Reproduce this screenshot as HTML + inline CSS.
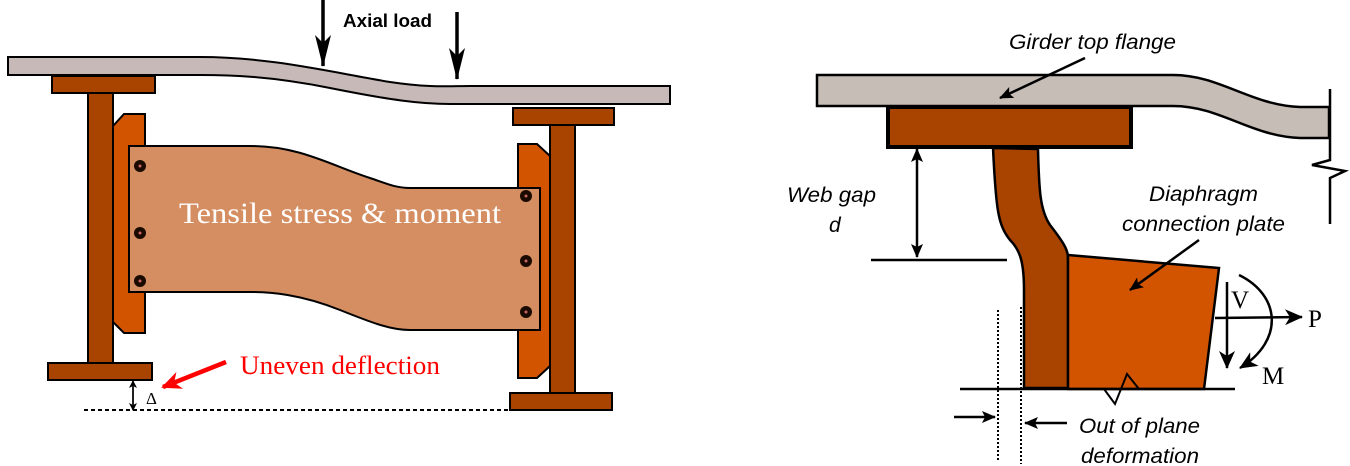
<!DOCTYPE html>
<html><head><meta charset="utf-8"><style>
html,body{margin:0;padding:0;background:#fff;}
svg{display:block;}
</style></head><body>
<svg width="1350" height="466" viewBox="0 0 1350 466" xmlns="http://www.w3.org/2000/svg">
<defs>
<marker id="ah" markerWidth="14" markerHeight="12" refX="13" refY="6" orient="auto" markerUnits="userSpaceOnUse"><path d="M0,0 L14,6 L0,12 L3,6 Z" fill="#000"/></marker>
<marker id="ahb" markerWidth="18" markerHeight="16" refX="17" refY="8" orient="auto" markerUnits="userSpaceOnUse"><path d="M0,0 L18,8 L0,16 L5,8 Z" fill="#000"/></marker>
<marker id="ahB" markerWidth="32" markerHeight="16" refX="31" refY="8" orient="auto" markerUnits="userSpaceOnUse"><path d="M0,0 L32,8 L0,16 L8,8 Z" fill="#000"/></marker>
<marker id="ahr" markerWidth="20" markerHeight="18" refX="18" refY="9" orient="auto" markerUnits="userSpaceOnUse"><path d="M0,0 L20,9 L0,18 L6,9 Z" fill="#f00"/></marker>
<marker id="ahs" markerWidth="8" markerHeight="8" refX="7" refY="4" orient="auto" markerUnits="userSpaceOnUse"><path d="M0,0 L8,4 L0,8 L2,4 Z" fill="#000"/></marker>
</defs>
<g stroke="#000" stroke-width="2" stroke-linejoin="miter">
<path d="M8,57 L200,57 C270,57 330,72 390,82 C430,88 450,86 470,86 L670,86 L670,104 L450,104 C420,104 390,100 330,88 C270,76 230,75 200,75 L8,75 Z" fill="#c7b9b7"/>
<rect x="52" y="76" width="103" height="17" fill="#a84300"/>
<rect x="88" y="93" width="25" height="270" fill="#a84300"/>
<path d="M113,126 L124,114 L145,114 L145,333 L124,333 L113,322 Z" fill="#d35400"/>
<rect x="48" y="363" width="104" height="17" fill="#a84300"/>
<rect x="513" y="108" width="101" height="17" fill="#a84300"/>
<rect x="550" y="125" width="25" height="268" fill="#a84300"/>
<path d="M550,156 L537,144 L518,144 L518,378 L537,378 L550,366 Z" fill="#d35400"/>
<rect x="510" y="393" width="102" height="17" fill="#a84300"/>
<path d="M129,146 L250,146 C300,146 330,165 370,178 C385,183 395,188 410,188 L540,188 L540,330 L410,330 C390,330 370,322 340,310 C300,294 270,292 250,292 L129,292 Z" fill="#d48e62"/>
</g>
<g fill="#1a0a00">
<circle cx="140" cy="166" r="6"/><circle cx="140" cy="233" r="6"/><circle cx="140" cy="281" r="6"/>
<circle cx="526" cy="196" r="6"/><circle cx="526" cy="261" r="6"/><circle cx="526" cy="312" r="6"/>
</g>
<g fill="#c66">
<circle cx="140" cy="166" r="1.5"/><circle cx="140" cy="233" r="1.5"/><circle cx="140" cy="281" r="1.5"/>
<circle cx="526" cy="196" r="1.5"/><circle cx="526" cy="261" r="1.5"/><circle cx="526" cy="312" r="1.5"/>
</g>
<text x="179" y="223" font-family="Liberation Serif, serif" font-size="30" fill="#fff" textLength="322" lengthAdjust="spacingAndGlyphs">Tensile stress  &amp; moment</text>
<line x1="323" y1="0" x2="323" y2="66" stroke="#000" stroke-width="3.5" marker-end="url(#ahB)"/>
<line x1="457" y1="12" x2="457" y2="79" stroke="#000" stroke-width="3.5" marker-end="url(#ahB)"/>
<text x="343" y="27" font-family="Liberation Sans, sans-serif" font-weight="bold" font-size="18" fill="#000" textLength="89" lengthAdjust="spacingAndGlyphs">Axial load</text>
<text x="240" y="374" font-family="Liberation Serif, serif" font-size="26" fill="#f00" textLength="200" lengthAdjust="spacingAndGlyphs">Uneven deflection</text>
<line x1="226" y1="362" x2="163" y2="387" stroke="#f00" stroke-width="4.5" marker-end="url(#ahr)"/>
<line x1="84" y1="410" x2="508" y2="410" stroke="#000" stroke-width="2" stroke-dasharray="4,3"/>
<line x1="133" y1="387" x2="133" y2="410" stroke="#000" stroke-width="1.5" marker-end="url(#ahs)"/>
<line x1="133" y1="404" x2="133" y2="381" stroke="#000" stroke-width="1.5" marker-end="url(#ahs)"/>
<text x="146" y="404" font-family="Liberation Serif, serif" font-size="17" fill="#000">Δ</text>

<g stroke="#000" stroke-width="2.5">
<path d="M817,75 L1173,75 C1220,75 1250,105 1300,107 L1329,107 L1329,138 L1300,138 C1250,136 1220,106 1173,106 L817,106 Z" fill="#c7bdb7"/>
<rect x="888" y="107" width="243" height="40" fill="#a84300" stroke-width="4"/>
<path d="M993,148 L1038,149 C1039,190 1040,210 1050,225 C1064,243 1068,250 1068,258 L1068,388 L1024,388 L1024,290 C1024,262 1020,250 1010,240 C998,225 996,210 993,148 Z" fill="#a84300"/>
<path d="M1068,255 L1219,268 L1204,389 L1068,389 Z" fill="#d35400"/>
</g>
<line x1="960" y1="389" x2="1235" y2="389" stroke="#000" stroke-width="2.5"/>
<polyline points="1104,389 1115,404 1127,374 1139,389" fill="none" stroke="#000" stroke-width="2"/>
<polyline points="1330,89 1330,160 1312,165 1345,171 1330,178 1330,224" fill="none" stroke="#000" stroke-width="2.5"/>
<line x1="871" y1="260" x2="1007" y2="260" stroke="#000" stroke-width="2.5"/>
<line x1="917" y1="200" x2="917" y2="149" stroke="#000" stroke-width="2.5" marker-end="url(#ah)"/>
<line x1="917" y1="200" x2="917" y2="257" stroke="#000" stroke-width="2.5" marker-end="url(#ah)"/>
<text x="787" y="202" font-family="Liberation Sans, sans-serif" font-style="italic" font-size="21" textLength="89" lengthAdjust="spacingAndGlyphs">Web gap</text>
<text x="829" y="232" font-family="Liberation Sans, sans-serif" font-style="italic" font-size="21">d</text>
<text x="1009" y="49" font-family="Liberation Sans, sans-serif" font-style="italic" font-size="21" textLength="167" lengthAdjust="spacingAndGlyphs">Girder top flange</text>
<line x1="1085" y1="58" x2="1000" y2="98" stroke="#000" stroke-width="2.5" marker-end="url(#ah)"/>
<text x="1149" y="201" font-family="Liberation Sans, sans-serif" font-style="italic" font-size="21" textLength="109" lengthAdjust="spacingAndGlyphs">Diaphragm</text>
<text x="1122" y="231" font-family="Liberation Sans, sans-serif" font-style="italic" font-size="21" textLength="163" lengthAdjust="spacingAndGlyphs">connection plate</text>
<line x1="1199" y1="240" x2="1130" y2="290" stroke="#000" stroke-width="2.5" marker-end="url(#ah)"/>
<line x1="1227" y1="282" x2="1227" y2="368" stroke="#000" stroke-width="2.5" marker-end="url(#ahb)"/>
<line x1="1215" y1="318" x2="1302" y2="317" stroke="#000" stroke-width="2.5" marker-end="url(#ahb)"/>
<path d="M1239,275 C1280,295 1285,340 1240,368" fill="none" stroke="#000" stroke-width="2.5" marker-end="url(#ahb)"/>
<text x="1231" y="308" font-family="Liberation Serif, serif" font-size="25">V</text>
<text x="1308" y="327" font-family="Liberation Serif, serif" font-size="25">P</text>
<text x="1262" y="384" font-family="Liberation Serif, serif" font-size="25">M</text>
<line x1="998" y1="310" x2="998" y2="462" stroke="#000" stroke-width="2" stroke-dasharray="2,2"/>
<line x1="1021" y1="307" x2="1021" y2="464" stroke="#000" stroke-width="2" stroke-dasharray="2,2"/>
<line x1="954" y1="417" x2="995" y2="417" stroke="#000" stroke-width="2.5" marker-end="url(#ah)"/>
<line x1="1067" y1="423" x2="1025" y2="423" stroke="#000" stroke-width="2.5" marker-end="url(#ah)"/>
<text x="1079" y="433" font-family="Liberation Sans, sans-serif" font-style="italic" font-size="21" textLength="121" lengthAdjust="spacingAndGlyphs">Out of plane</text>
<text x="1081" y="463" font-family="Liberation Sans, sans-serif" font-style="italic" font-size="21" textLength="118" lengthAdjust="spacingAndGlyphs">deformation</text>
</svg>
</body></html>
